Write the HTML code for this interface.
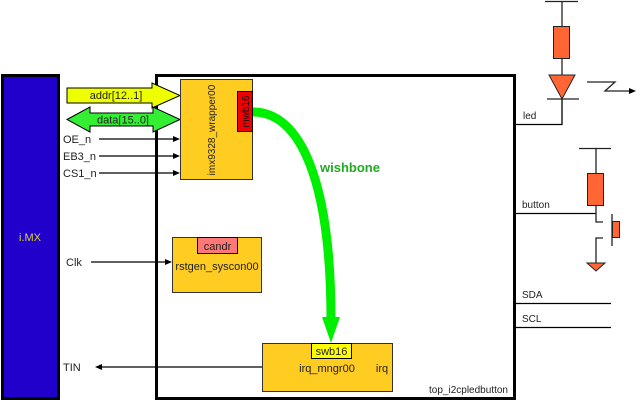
<!DOCTYPE html>
<html><head><meta charset="utf-8"><style>
html,body{margin:0;padding:0;background:#fff;}
svg{display:block;}
text{font-family:"Liberation Sans",sans-serif;}
</style></head><body>
<svg width="640" height="402" viewBox="0 0 640 402" xmlns="http://www.w3.org/2000/svg">
<!-- i.MX box -->
<rect x="2.5" y="75.5" width="56" height="323" fill="#2200cc" stroke="#000" stroke-width="3"/>
<text x="30" y="241" font-size="11" fill="#d8d040" text-anchor="middle">i.MX</text>

<!-- main box -->
<rect x="156.5" y="75.5" width="358" height="323" fill="none" stroke="#000" stroke-width="3"/>
<text x="508" y="393" font-size="10" fill="#222" text-anchor="end">top_i2cpledbutton</text>

<!-- signal lines -->
<g stroke="#000" stroke-width="1.2">
<line x1="99" y1="139" x2="175" y2="139"/>
<line x1="99" y1="156" x2="175" y2="156"/>
<line x1="99" y1="173" x2="175" y2="173"/>
<line x1="91" y1="262" x2="167" y2="262"/>
<line x1="100" y1="367" x2="262" y2="367"/>
</g>
<g fill="#000">
<polygon points="180,139 173,136 173,142"/>
<polygon points="180,156 173,153 173,159"/>
<polygon points="180,173 173,170 173,176"/>
<polygon points="172,262 165,259 165,265"/>
<polygon points="95,367 102,364 102,370"/>
</g>
<g font-size="11" fill="#222">
<text x="63" y="143">OE_n</text>
<text x="63" y="160">EB3_n</text>
<text x="63" y="177">CS1_n</text>
<text x="66" y="266">Clk</text>
<text x="63" y="371">TIN</text>
</g>

<!-- addr arrow -->
<polygon points="67,88 152,88 152,83 180,95.5 152,108 152,103 67,103" fill="#eeff00" stroke="#000" stroke-width="1"/>
<text x="116" y="99" font-size="11" fill="#222" text-anchor="middle">addr[12..1]</text>
<!-- data arrow -->
<polygon points="67,119.5 90,107 90,113 153,113 153,107 180,119.5 153,132 153,126 90,126 90,132" fill="#33ee33" stroke="#000" stroke-width="1"/>
<text x="123" y="123.5" font-size="11" fill="#222" text-anchor="middle">data[15..0]</text>

<!-- wrapper box -->
<rect x="180.5" y="79.5" width="72" height="100" fill="#ffcc22" stroke="#333" stroke-width="1"/>
<text transform="translate(215,130) rotate(-90)" font-size="10" fill="#222" text-anchor="middle">imx9328_wrapper00</text>
<rect x="237.5" y="91.5" width="15" height="40" fill="#ee0000" stroke="#000" stroke-width="1"/>
<text transform="translate(249,111.5) rotate(-90)" font-size="10" fill="#111" text-anchor="middle">mwb16</text>

<!-- rstgen box -->
<rect x="172.5" y="237.5" width="89" height="55" fill="#ffcc22" stroke="#333" stroke-width="1"/>
<rect x="197.5" y="237.5" width="40" height="16" fill="#ff7777" stroke="#000" stroke-width="1"/>
<text x="217.5" y="250" font-size="11" fill="#222" text-anchor="middle">candr</text>
<text x="217" y="270" font-size="11" fill="#222" text-anchor="middle">rstgen_syscon00</text>

<!-- irq box -->
<rect x="262.5" y="343.5" width="130" height="48" fill="#ffcc22" stroke="#333" stroke-width="1"/>
<rect x="311.5" y="343.5" width="40" height="15" fill="#ffff00" stroke="#000" stroke-width="1"/>
<text x="331.5" y="355" font-size="11" fill="#222" text-anchor="middle">swb16</text>
<text x="327" y="372" font-size="11" fill="#222" text-anchor="middle">irq_mngr00</text>
<text x="382" y="372" font-size="11" fill="#222" text-anchor="middle">irq</text>

<!-- wishbone curve -->
<path d="M 253 112 C 300 112, 331 180, 331 320" fill="none" stroke="#00ee00" stroke-width="9"/>
<polygon points="322,317 340,317 331,343" fill="#00ee00"/>
<text x="350" y="172" font-size="13" font-weight="bold" fill="#22aa22" text-anchor="middle">wishbone</text>

<!-- right side signals -->
<g stroke="#000" stroke-width="1.3" fill="none">
<polyline points="515,124.5 562,124.5 562,99"/>
<line x1="515" y1="213.5" x2="596" y2="213.5"/>
<line x1="515" y1="303.5" x2="611" y2="303.5"/>
<line x1="515" y1="327.5" x2="611" y2="327.5"/>
</g>
<g font-size="10" fill="#222">
<text x="523" y="119">led</text>
<text x="522" y="208">button</text>
<text x="522" y="298">SDA</text>
<text x="522" y="322">SCL</text>
</g>

<!-- LED circuit -->
<g stroke="#222" stroke-width="1.3" fill="none">
<line x1="545" y1="1.5" x2="578" y2="1.5"/>
<line x1="562" y1="1.5" x2="562" y2="26"/>
<line x1="562" y1="58" x2="562" y2="75"/>
<line x1="547" y1="99" x2="579" y2="99"/>
<polyline points="587,82 615,82 605,91 631,91"/>
</g>
<rect x="553.5" y="26.5" width="16" height="32" fill="#ff6633" stroke="#222" stroke-width="1"/>
<polygon points="549,75 575,75 562,99" fill="#ff6633" stroke="#222" stroke-width="1"/>
<polygon points="636,91 629,88 629,94" fill="#000"/>

<!-- button circuit -->
<g stroke="#222" stroke-width="1.3" fill="none">
<line x1="579" y1="148.5" x2="611" y2="148.5"/>
<line x1="596" y1="148.5" x2="596" y2="173"/>
<polyline points="596,205 596,222 603,222"/>
<line x1="612" y1="214" x2="612" y2="246"/>
<polyline points="603,238 596,238 596,263"/>
</g>
<rect x="587.5" y="173.5" width="16" height="32" fill="#ff6633" stroke="#222" stroke-width="1"/>
<rect x="612.5" y="221.5" width="7" height="16" fill="#ff6633" stroke="#222" stroke-width="1"/>
<polygon points="587,263 605,263 596,271" fill="#ff6633" stroke="#222" stroke-width="1"/>
</svg>
</body></html>
